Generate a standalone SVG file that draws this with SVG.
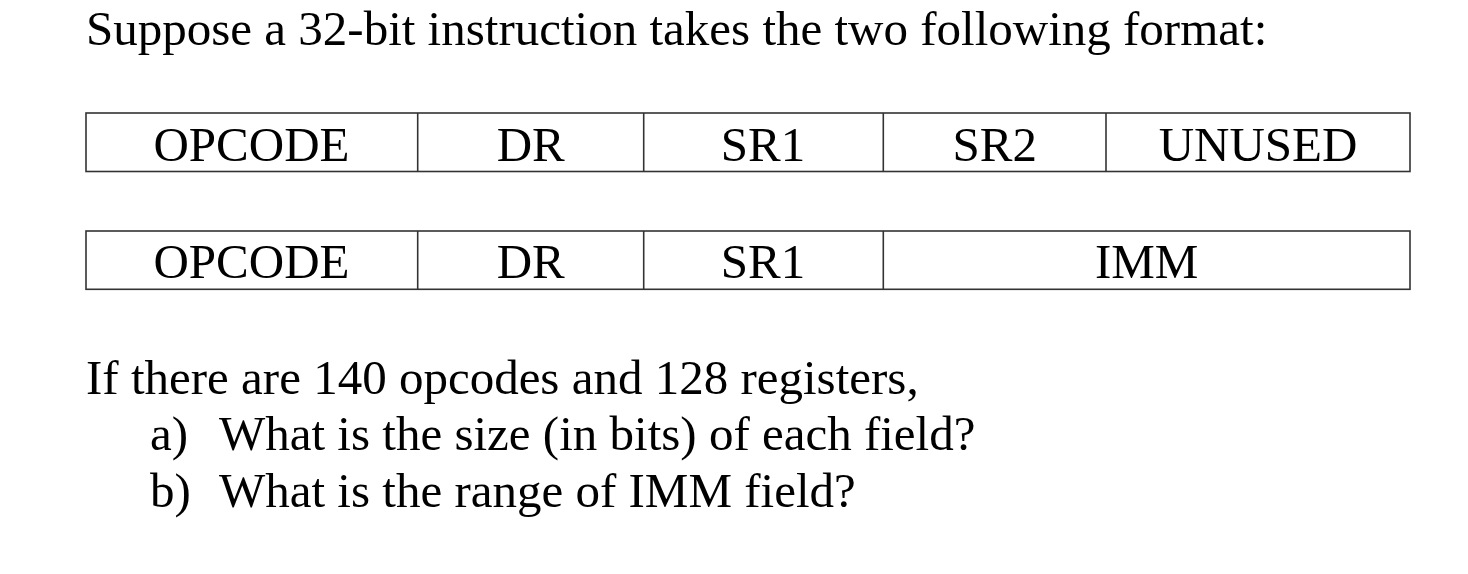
<svg xmlns="http://www.w3.org/2000/svg" width="1468" height="574" viewBox="0 0 1468 574">
<style>
.t{font-family:"Liberation Serif","Times New Roman",serif;font-size:49px;fill:#000}
.c{text-anchor:middle}
.b{fill:none;stroke:#333;stroke-width:1.6}
</style>
<rect width="1468" height="574" fill="#fff"/>
<text class="t" x="86" y="45">Suppose a 32-bit instruction takes the two following format:</text>
<g id="row1">
<rect class="b" x="86" y="113" width="1324" height="58.5"/>
<line class="b" x1="417.7" y1="113" x2="417.7" y2="171.5"/>
<line class="b" x1="643.7" y1="113" x2="643.7" y2="171.5"/>
<line class="b" x1="883.3" y1="113" x2="883.3" y2="171.5"/>
<line class="b" x1="1106" y1="113" x2="1106" y2="171.5"/>
<text class="t c" x="251.5" y="161">OPCODE</text>
<text class="t c" x="530.7" y="161">DR</text>
<text class="t c" x="763" y="161">SR1</text>
<text class="t c" x="994.7" y="161">SR2</text>
<text class="t c" x="1258" y="161">UNUSED</text>
</g>
<g id="row2">
<rect class="b" x="86" y="231" width="1324" height="58.3"/>
<line class="b" x1="417.7" y1="231" x2="417.7" y2="289.3"/>
<line class="b" x1="643.7" y1="231" x2="643.7" y2="289.3"/>
<line class="b" x1="883.3" y1="231" x2="883.3" y2="289.3"/>
<text class="t c" x="251.5" y="277.5">OPCODE</text>
<text class="t c" x="530.7" y="277.5">DR</text>
<text class="t c" x="763" y="277.5">SR1</text>
<text class="t c" x="1146.7" y="277.5">IMM</text>
</g>
<text class="t" x="86" y="394">If there are 140 opcodes and 128 registers,</text>
<text class="t" x="150" y="450">a)</text>
<text class="t" x="219" y="450">What is the size (in bits) of each field?</text>
<text class="t" x="150" y="506.5">b)</text>
<text class="t" x="219" y="506.5">What is the range of IMM field?</text>
</svg>
